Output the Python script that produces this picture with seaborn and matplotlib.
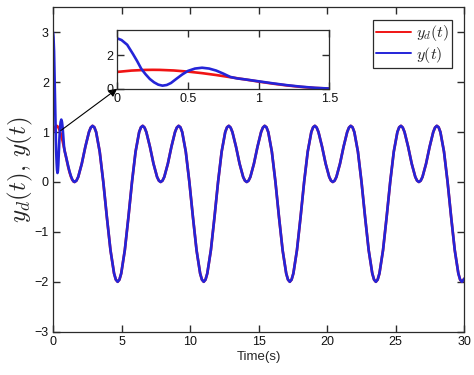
import numpy as np
import pandas as pd
import matplotlib
matplotlib.use("Agg")
import matplotlib.pyplot as plt
import seaborn as sns
from matplotlib.lines import Line2D

# desired trajectory y_d(t): fine samples over the first 1.5 s
t_fine = [0.0, 0.1, 0.2, 0.25, 0.3, 0.4, 0.5, 0.6, 0.7, 0.8, 0.9, 1.0, 1.1, 1.2, 1.3, 1.4, 1.5]
yd_fine = [1.0, 1.08, 1.12, 1.125, 1.121, 1.086, 1.019, 0.927, 0.814, 0.688, 0.556, 0.425,
           0.302, 0.195, 0.107, 0.043, 0.007]

t_grid = [
    1.571, 1.702, 1.833, 2.094, 2.356, 2.618, 2.749, 2.880, 3.011, 3.142, 3.403, 3.665, 3.927, 4.189, 4.451, 4.582,
    4.712, 4.843, 4.974, 5.236, 5.498, 5.760, 6.021, 6.283, 6.414, 6.545, 6.676, 6.807, 7.069, 7.330, 7.592, 7.723,
    7.854, 7.985, 8.116, 8.378, 8.639, 8.901, 9.032, 9.163, 9.294, 9.425, 9.687, 9.948, 10.210, 10.472, 10.734, 10.865,
    10.996, 11.127, 11.257, 11.519, 11.781, 12.043, 12.305, 12.566, 12.697, 12.828, 12.959, 13.090, 13.352, 13.614, 13.875, 14.006,
    14.137, 14.268, 14.399, 14.661, 14.923, 15.184, 15.315, 15.446, 15.577, 15.708, 15.970, 16.232, 16.493, 16.755, 17.017, 17.148,
    17.279, 17.410, 17.541, 17.802, 18.064, 18.326, 18.588, 18.850, 18.981, 19.111, 19.242, 19.373, 19.635, 19.897, 20.159, 20.290,
    20.420, 20.551, 20.682, 20.944, 21.206, 21.468, 21.599, 21.729, 21.860, 21.991, 22.253, 22.515, 22.777, 23.038, 23.300, 23.431,
    23.562, 23.693, 23.824, 24.086, 24.347, 24.609, 24.871, 25.133, 25.264, 25.395, 25.526, 25.656, 25.918, 26.180, 26.442, 26.573,
    26.704, 26.835, 26.965, 27.227, 27.489, 27.751, 27.882, 28.013, 28.144, 28.274, 28.536, 28.798, 29.060, 29.322, 29.583, 29.714,
    29.845, 29.976, 30.0,
]
yd_grid = [
    0.0, 0.026, 0.1, 0.366, 0.707, 1.0, 1.09, 1.125, 1.096, 1.0, 0.607, 0.0, -0.707, -1.366, -1.832, -1.957,
    -2.0, -1.957, -1.832, -1.366, -0.707, 0.0, 0.607, 1.0, 1.096, 1.125, 1.09, 1.0, 0.707, 0.366, 0.1, 0.026,
    0.0, 0.026, 0.1, 0.366, 0.707, 1.0, 1.09, 1.125, 1.096, 1.0, 0.607, 0.0, -0.707, -1.366, -1.832, -1.957,
    -2.0, -1.957, -1.832, -1.366, -0.707, 0.0, 0.607, 1.0, 1.096, 1.125, 1.09, 1.0, 0.707, 0.366, 0.1, 0.026,
    0.0, 0.026, 0.1, 0.366, 0.707, 1.0, 1.09, 1.125, 1.096, 1.0, 0.607, 0.0, -0.707, -1.366, -1.832, -1.957,
    -2.0, -1.957, -1.832, -1.366, -0.707, 0.0, 0.607, 1.0, 1.096, 1.125, 1.09, 1.0, 0.707, 0.366, 0.1, 0.026,
    0.0, 0.026, 0.1, 0.366, 0.707, 1.0, 1.09, 1.125, 1.096, 1.0, 0.607, 0.0, -0.707, -1.366, -1.832, -1.957,
    -2.0, -1.957, -1.832, -1.366, -0.707, 0.0, 0.607, 1.0, 1.096, 1.125, 1.09, 1.0, 0.707, 0.366, 0.1, 0.026,
    0.0, 0.026, 0.1, 0.366, 0.707, 1.0, 1.09, 1.125, 1.096, 1.0, 0.607, 0.0, -0.707, -1.366, -1.832, -1.957,
    -2.0, -1.957, -1.94,
]

# actual output y(t): transient at the start, then it tracks y_d
t_tr = [0.0, 0.03, 0.07, 0.11, 0.14, 0.17, 0.2, 0.23, 0.26, 0.29, 0.32, 0.35, 0.38, 0.42, 0.46, 0.5,
        0.55, 0.6, 0.65, 0.7, 0.75, 0.8, 0.85, 0.9, 1.0, 1.1, 1.2, 1.3, 1.4, 1.5]
y_tr = [3.0, 2.9, 2.62, 2.08, 1.65, 1.18, 0.86, 0.58, 0.38, 0.24, 0.18, 0.22, 0.34, 0.6, 0.85, 1.06,
        1.2, 1.25, 1.2, 1.08, 0.9, 0.7, 0.61, 0.56, 0.44, 0.32, 0.21, 0.12, 0.05, 0.01]

RED = "#f01414"
BLUE = "#2424d8"

df = pd.concat([
    pd.DataFrame({"t": t_fine + t_grid, "value": yd_fine + yd_grid, "series": "yd"}),
    pd.DataFrame({"t": t_tr + t_grid, "value": y_tr + yd_grid, "series": "y"}),
], ignore_index=True)
palette = {"yd": RED, "y": BLUE}

edge = "#2b2b2b"
sns.set_theme(style="ticks")
plt.rcParams["font.family"] = ["Liberation Sans", "DejaVu Sans"]
plt.rcParams["mathtext.fontset"] = "cm"

def style_axes(a, fs):
    a.tick_params(axis="both", direction="in", top=True, right=True,
                  length=5, width=1.0, color=edge, labelsize=fs, pad=3, labelcolor="#111111")
    for s in a.spines.values():
        s.set_visible(True)
        s.set_color(edge)
        s.set_linewidth(0.9)

fig = plt.figure(figsize=(4.74, 3.75), dpi=100)
ax = fig.add_axes([0.112, 0.1155, 0.867, 0.865])
sns.lineplot(data=df, x="t", y="value", hue="series", palette=palette, hue_order=["yd", "y"],
             estimator=None, sort=False, linewidth=1.9, legend=False, ax=ax)
ax.set_xlim(0, 30)
ax.set_ylim(-3, 3.5)
ax.set_xticks([0, 5, 10, 15, 20, 25, 30])
ax.set_yticks([-3, -2, -1, 0, 1, 2, 3])
ax.set_xlabel("Time(s)", fontsize=9.5, labelpad=2)
ax.set_ylabel(r"$y_d(t),\, y(t)$", fontsize=18, labelpad=0)
style_axes(ax, 9)

handles = [Line2D([0], [0], color=RED, lw=1.4), Line2D([0], [0], color=BLUE, lw=1.4)]
leg = ax.legend(handles, [r"$y_d(t)$", r"$y(t)$"], loc="upper right", bbox_to_anchor=(0.971, 0.961),
                borderaxespad=0, fontsize=11.5, frameon=True, fancybox=False, framealpha=1,
                handlelength=2.2, handletextpad=0.3, borderpad=0.2, labelspacing=0.1)
leg.get_frame().set_edgecolor(edge)
leg.get_frame().set_linewidth(0.9)

# zoomed inset of the first 1.5 s
axins = fig.add_axes([0.2475, 0.7635, 0.447, 0.1565])
sns.lineplot(data=df, x="t", y="value", hue="series", palette=palette, hue_order=["yd", "y"],
             estimator=None, sort=False, linewidth=1.9, legend=False, ax=axins)
axins.set_xlim(0, 1.5)
axins.set_ylim(0, 3.5)
axins.set_xticks([0, 0.5, 1, 1.5])
axins.set_xticklabels(["0", "0.5", "1", "1.5"])
axins.set_yticks([0, 2])
axins.set_xlabel("")
axins.set_ylabel("")
style_axes(axins, 9)

ax.annotate("", xy=(0, 0), xycoords=axins.transAxes, xytext=(0.56, 1.03), textcoords="data",
            arrowprops=dict(arrowstyle="-|>", color="black", lw=0.8, mutation_scale=12,
                            shrinkA=0, shrinkB=0))

fig.savefig("out.png", dpi=100)
